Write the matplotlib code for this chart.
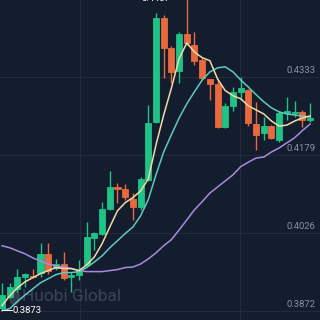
import numpy as np
import matplotlib
matplotlib.use("Agg")
import matplotlib.pyplot as plt
from matplotlib.patches import Ellipse

BG = "#141d2d"
GRID = "#212b3b"
UP = "#1fc287"
DOWN = "#e8693d"

# candles (open, high, low, close)
opens = [0.3878, 0.3899, 0.3915, 0.3939, 0.3941, 0.3947, 0.3984, 0.3957, 0.3964, 0.3939,
         0.3943, 0.3962, 0.4016, 0.4024, 0.4073, 0.4116, 0.4112, 0.4093, 0.4077, 0.4130,
         0.4244, 0.4450, 0.4390, 0.4345, 0.4418, 0.4396, 0.4367, 0.4329, 0.4319, 0.4235,
         0.4276, 0.4304, 0.4308, 0.4240, 0.4223, 0.4236, 0.4209, 0.4262, 0.4262, 0.4264,
         0.4248]
highs = [0.3927, 0.3927, 0.3955, 0.3947, 0.3955, 0.4006, 0.4006, 0.3974, 0.3988, 0.3949,
         0.3972, 0.4047, 0.4028, 0.4087, 0.4148, 0.4124, 0.4122, 0.4104, 0.4136, 0.4278,
         0.4459, 0.4455, 0.4394, 0.4422, 0.4487, 0.4422, 0.4371, 0.4329, 0.4327, 0.4282,
         0.4313, 0.4333, 0.4310, 0.4284, 0.4254, 0.4238, 0.4266, 0.4294, 0.4286, 0.4268,
         0.4282]
lows = [0.3873, 0.3897, 0.3909, 0.3919, 0.3937, 0.3939, 0.3945, 0.3953, 0.3933, 0.3909,
        0.3933, 0.3960, 0.3992, 0.4022, 0.4071, 0.4085, 0.4091, 0.4051, 0.4071, 0.4128,
        0.4242, 0.4331, 0.4321, 0.4321, 0.4396, 0.4357, 0.4327, 0.4288, 0.4233, 0.4233,
        0.4266, 0.4288, 0.4236, 0.4189, 0.4209, 0.4211, 0.4205, 0.4248, 0.4254, 0.4235,
        0.4244]
closes = [0.3903, 0.3919, 0.3939, 0.3945, 0.3939, 0.3984, 0.3951, 0.3964, 0.3937, 0.3943,
          0.3951, 0.4018, 0.4026, 0.4073, 0.4116, 0.4112, 0.4097, 0.4077, 0.4132, 0.4242,
          0.4450, 0.4390, 0.4343, 0.4418, 0.4400, 0.4365, 0.4331, 0.4319, 0.4235, 0.4276,
          0.4304, 0.4311, 0.4242, 0.4219, 0.4236, 0.4213, 0.4262, 0.4266, 0.4264, 0.4248,
          0.4252]

# moving averages
ma5 = [0.3882, 0.3901, 0.3917, 0.3929, 0.3937, 0.3945, 0.3951, 0.3957, 0.3955, 0.3955,
       0.3951, 0.3962, 0.3978, 0.4004, 0.4037, 0.4069, 0.4085, 0.4095, 0.4108, 0.4132,
       0.4199, 0.4258, 0.4311, 0.4369, 0.4400, 0.4382, 0.4371, 0.4365, 0.4329, 0.4306,
       0.4296, 0.4290, 0.4276, 0.4268, 0.4260, 0.4246, 0.4236, 0.4238, 0.4246, 0.4252,
       0.4256]
ma10 = [0.3872, 0.3876, 0.3890, 0.3903, 0.3915, 0.3927, 0.3935, 0.3943, 0.3947, 0.3947,
        0.3949, 0.3957, 0.3968, 0.3980, 0.3996, 0.4010, 0.4024, 0.4037, 0.4059, 0.4091,
        0.4140, 0.4185, 0.4219, 0.4252, 0.4280, 0.4304, 0.4327, 0.4343, 0.4351, 0.4353,
        0.4343, 0.4327, 0.4313, 0.4298, 0.4284, 0.4272, 0.4264, 0.4260, 0.4258, 0.4256,
        0.4254]
ma30 = [0.4000, 0.3996, 0.3990, 0.3984, 0.3976, 0.3970, 0.3964, 0.3960, 0.3958, 0.3955,
        0.3951, 0.3949, 0.3949, 0.3949, 0.3951, 0.3953, 0.3957, 0.3958, 0.3964, 0.3974,
        0.3986, 0.4000, 0.4012, 0.4031, 0.4051, 0.4071, 0.4087, 0.4104, 0.4116, 0.4128,
        0.4140, 0.4156, 0.4165, 0.4173, 0.4175, 0.4185, 0.4193, 0.4203, 0.4213, 0.4227,
        0.4240]

price_labels = [0.4333, 0.4179, 0.4026, 0.3872]
max_label = "0.4487"
min_label = "0.3873"

o = np.array(opens)
h = np.array(highs)
l = np.array(lows)
c = np.array(closes)
x = np.arange(len(o))
up = c >= o
cols = np.where(up, UP, DOWN)

fig = plt.figure(figsize=(3.2, 3.2), dpi=100, facecolor=BG)
ax = fig.add_axes([0, 0, 1, 1])
ax.set_facecolor(BG)
ax.set_xlim(-0.26, 41.3)
ax.set_ylim(0.38535, 0.44848)
ax.axis("off")

# grid
for p in price_labels:
    ax.axhline(p, color=GRID, lw=0.8, zorder=0)
for fx in (0.25, 0.75):
    ax.plot([fx, fx], [0, 1], transform=ax.transAxes, color=GRID, lw=0.8, zorder=0)

# watermark
ax.text(0.07, 0.073, "Huobi Global", transform=ax.transAxes, fontsize=12.5,
        family="Roboto", color="#6b7585", alpha=0.45, va="center", ha="left", zorder=1)
ax.add_patch(Ellipse((0.045, 0.073), 0.03, 0.05, transform=ax.transAxes,
                     color="#6b7585", alpha=0.35, zorder=1))

# candles
ax.vlines(x, l, h, colors=cols, lw=1, zorder=2)
ax.bar(x, np.abs(c - o), bottom=np.minimum(o, c), width=0.78, color=cols,
       edgecolor=cols, linewidth=0.6, zorder=3)

# moving averages
ax.plot(x, ma30, color="#a88be0", lw=1.1, zorder=4)
ax.plot(x, ma10, color="#5fc8bf", lw=1.1, zorder=4)
ax.plot(x, ma5, color="#f1dba6", lw=1.1, zorder=4)

# price labels
for p in price_labels:
    ax.text(0.985, p + 0.0003, f"{p:.4f}", transform=ax.get_yaxis_transform(),
            ha="right", va="bottom", fontsize=6.8, family="Roboto", color="#8a93a3", zorder=5)

# min / max markers
imin = int(np.argmin(l))
ax.plot([imin, imin + 1.3], [l[imin], l[imin]], color="white", lw=0.7, zorder=5)
ax.text(imin + 1.4, l[imin], min_label, ha="left", va="center", fontsize=6.8,
        family="Roboto", color="white", zorder=6)
ax.text(20, 0.4478, max_label, ha="center", va="bottom", fontsize=6.8,
        family="Roboto", color="white", zorder=6, clip_on=False)

fig.savefig("out.png", dpi=100, facecolor=BG)
